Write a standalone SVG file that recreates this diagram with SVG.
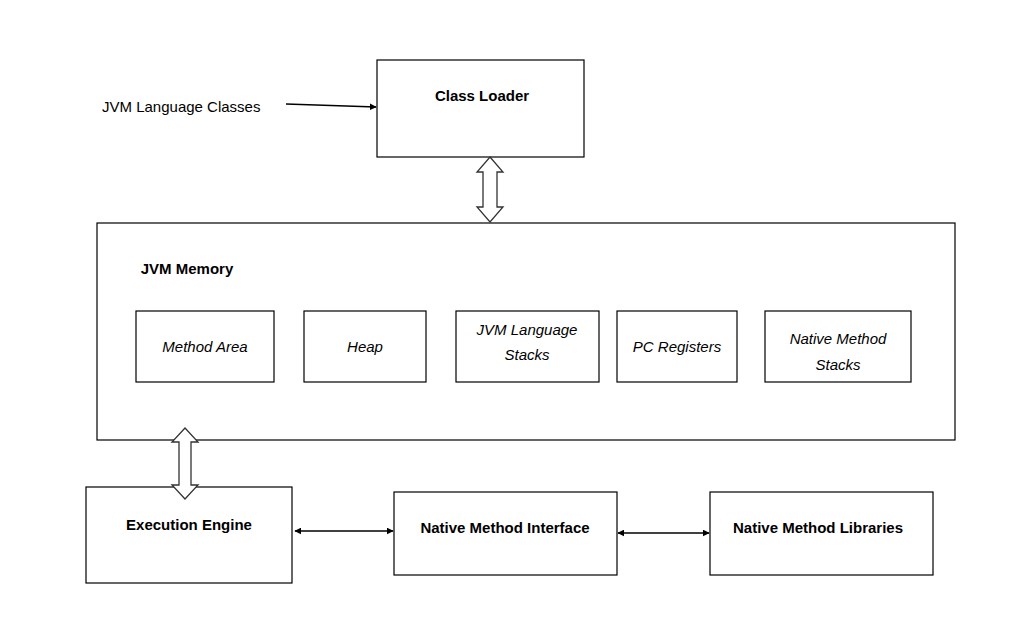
<svg xmlns="http://www.w3.org/2000/svg" width="1024" height="620" viewBox="0 0 1024 620">
<defs>
<marker id="ah" viewBox="0 0 10 10" refX="9" refY="5" markerWidth="7" markerHeight="7" markerUnits="userSpaceOnUse" orient="auto-start-reverse"><path d="M0,0 L10,5 L0,10 z" fill="#000"/></marker>
<style>
.box{fill:#fff;stroke:#000;stroke-width:1.2}
.b{font-family:"Liberation Sans",Arial,sans-serif;font-size:15px;font-weight:bold;fill:#000;text-anchor:middle}
.i{font-family:"Liberation Sans",Arial,sans-serif;font-size:15px;font-style:italic;fill:#000;text-anchor:middle}
.n{font-family:"Liberation Sans",Arial,sans-serif;font-size:15px;fill:#000}
.ln{stroke:#000;stroke-width:1.5;fill:none}
.blk{fill:#fff;stroke:#333;stroke-width:1.3}
</style>
</defs>
<rect width="1024" height="620" fill="#fff"/>
<g id="classloader"><rect class="box" x="377" y="60" width="207" height="97"/><text class="b" x="482" y="101">Class Loader</text></g>
<g id="memory"><rect class="box" x="97" y="223" width="858" height="217"/><text class="b" x="187" y="274">JVM Memory</text></g>
<g id="methodarea"><rect class="box" x="136" y="311" width="138" height="71"/><text class="i" x="205" y="352">Method Area</text></g>
<g id="heap"><rect class="box" x="304" y="311" width="122" height="71"/><text class="i" x="365" y="352">Heap</text></g>
<g id="stacks"><rect class="box" x="456" y="311" width="143" height="71"/><text class="i" x="527" y="335">JVM Language</text><text class="i" x="527" y="360">Stacks</text></g>
<g id="pc"><rect class="box" x="617" y="311" width="120" height="71"/><text class="i" x="677" y="352">PC Registers</text></g>
<g id="nms"><rect class="box" x="765" y="311" width="146" height="71"/><text class="i" x="838" y="344">Native Method</text><text class="i" x="838" y="370">Stacks</text></g>
<g id="engine"><rect class="box" x="86" y="487" width="206" height="96"/><text class="b" x="189" y="530">Execution Engine</text></g>
<g id="nmi"><rect class="box" x="394" y="492" width="223" height="83"/><text class="b" x="505" y="533">Native Method Interface</text></g>
<g id="nml"><rect class="box" x="710" y="492" width="223" height="83"/><text class="b" x="818" y="533">Native Method Libraries</text></g>
<g id="input"><text class="n" x="102" y="112">JVM Language Classes</text></g>
<g id="connectors">
<line class="ln" x1="286" y1="104" x2="376" y2="107" marker-end="url(#ah)"/>
<path class="blk" d="M490,157 L503,172 L497,172 L497,207 L503,207 L490,222 L477,207 L483,207 L483,172 L477,172 Z"/>
<path class="blk" d="M185,428 L198,442 L191,442 L191,485 L198,485 L185,499 L172,485 L179,485 L179,442 L172,442 Z"/>
<line class="ln" x1="295" y1="531" x2="393" y2="531" marker-start="url(#ah)" marker-end="url(#ah)"/>
<line class="ln" x1="618" y1="533" x2="709" y2="533" marker-start="url(#ah)" marker-end="url(#ah)"/>
</g>
</svg>
